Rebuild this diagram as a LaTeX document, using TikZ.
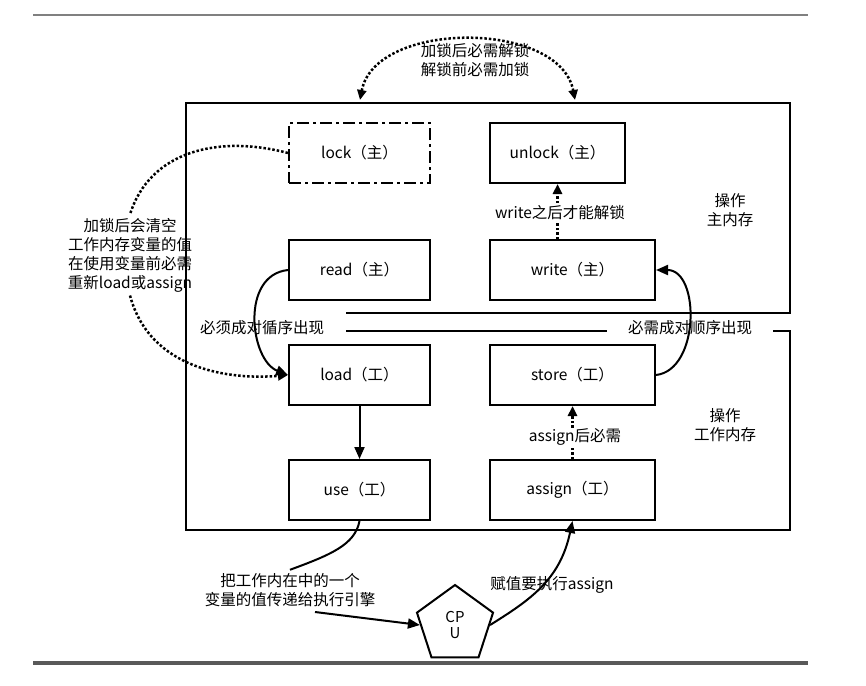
\documentclass[tikz,border=0pt]{standalone}
\usepackage{fontspec}
\setmainfont{Noto Sans CJK SC}
\usetikzlibrary{shapes.geometric,arrows.meta}
\begin{document}
\tikzset{
    op/.style={draw,line width=2pt,minimum height=60pt,inner sep=0pt},
    dotarrow/.style={dotted,line width=2.5pt,-{Triangle[length=10pt,width=9pt]}},
    solidarrow/.style={line width=2pt,-{Triangle[length=12pt,width=10pt]}},
    lbl/.style={align=center,font=\fontsize{15.5}{19}\selectfont},
}
\begin{tikzpicture}[x=1pt,y=-1pt,font=\fontsize{15.5}{19}\selectfont]
    \useasboundingbox (0,0) rectangle (866,685);
    %page lines
    \draw[gray,line width=2pt] (33,15) -- (808,15);
    \draw[gray!70!black,line width=3.5pt] (33,663) -- (808,663);
    %memory frames
    \draw[line width=2pt] (346,313) -- (790,313) -- (790,103) -- (186,103) -- (186,530) -- (790,530) -- (790,331) -- (773,331);
    \draw[line width=2pt] (346,331) -- (607,331);
    %operations
    \node[op,minimum width=141pt,dash pattern=on 12pt off 4pt on 3pt off 4pt,line width=2.2pt] (lock) at (359.5,153) {lock（主）};
    \node[op,minimum width=135pt] (unlock) at (557.5,153) {unlock（主）};
    \node[op,minimum width=141pt] (read) at (359.5,270) {read（主）};
    \node[op,minimum width=165pt] (write) at (572.5,270) {write（主）};
    \node[op,minimum width=141pt] (load) at (359.5,375) {load（工）};
    \node[op,minimum width=165pt] (store) at (572.5,375) {store（工）};
    \node[op,minimum width=141pt] (use) at (359.5,490) {use（工）};
    \node[op,minimum width=165pt] (assign) at (572.5,490) {assign（工）};
    \node[draw,regular polygon,regular polygon sides=5,minimum size=80pt,line width=2pt,inner sep=0pt,align=center,font=\fontsize{15}{16}\selectfont] (cpu) at (455,625) {CP\\U};
    %labels
    \node[lbl] (pairlock) at (475,60) {加锁后必需解锁\\解锁前必需加锁};
    \node[lbl] (clear) at (130,255) {加锁后会清空\\工作内存变量的值\\在使用变量前必需\\重新load或assign};
    \node[lbl,fill=white,inner sep=1pt] (pairleft) at (262,328) {必须成对循序出现};
    \node[lbl,fill=white,inner sep=1pt] (pairright) at (690,328) {必需成对顺序出现};
    \node[lbl] (mainmem) at (730,210) {操作\\主内存};
    \node[lbl] (workmem) at (725,425) {操作\\工作内存};
    %connectors
    \draw[dotarrow,{Triangle[length=10pt,width=9pt]}-{Triangle[length=10pt,width=9pt]}] (360,100) .. controls (375,20) and (560,20) .. (575,100);
    \draw[dotted,line width=2.5pt] (lock.west) .. controls (220,135) and (150,150) .. (clear.north);
    \draw[dotarrow] (clear.south) .. controls (150,370) and (230,380) .. (load.west);
    \draw[dotarrow] (write.north-|unlock.south) -- (unlock.south);
    \draw[dotarrow] (assign.north) -- (store.south);
    \draw[solidarrow] (load.south) -- (use.north);
    \draw[solidarrow] (read.west) .. controls (240,275) and (250,360) .. (load.west);
    \draw[solidarrow] (store.east) .. controls (700,370) and (700,270) .. (write.east);
    %labels over dotted arrows
    \node[lbl,fill=white,inner sep=1pt] (afterwrite) at (560,213) {write之后才能解锁};
    \node[lbl,fill=white,inner sep=1pt] (afterassign) at (575,437) {assign后必需};
    \node[lbl] (pass) at (290,590) {把工作内在中的一个\\变量的值传递给执行引擎};
    \node[lbl] (doassign) at (552,585) {赋值要执行assign};
    \draw[line width=2pt] (use.south) .. controls (355,545) and (330,555) .. (pass.north);
    \draw[solidarrow] (315,612) -- (cpu.west);
    \draw[solidarrow] (cpu.east) .. controls (530,600) and (560,580) .. (assign.south);
\end{tikzpicture}
\end{document}
